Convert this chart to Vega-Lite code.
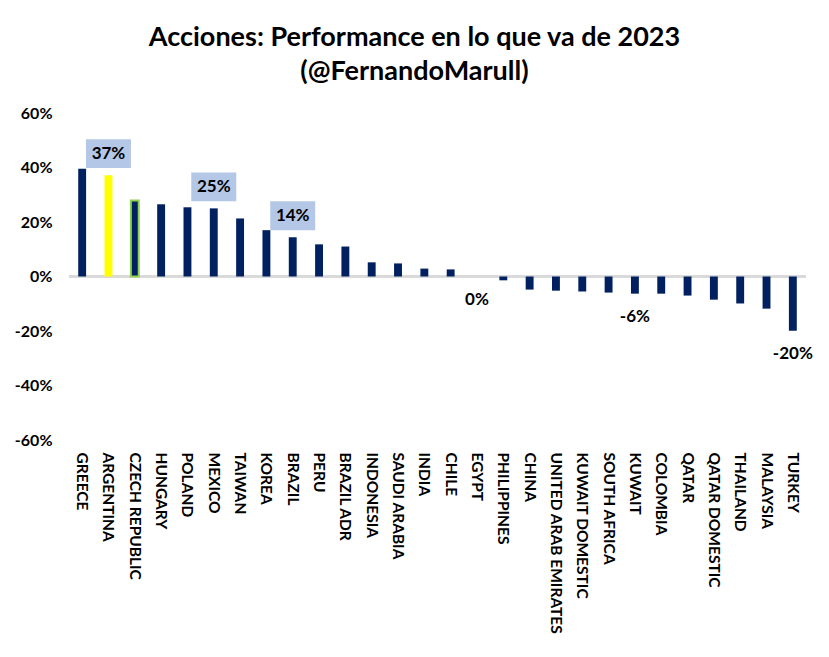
{
  "$schema": "https://vega.github.io/schema/vega-lite/v6.json",
  "width": 737,
  "height": 327,
  "autosize": {"type": "none"},
  "padding": {"left": 69, "top": 113, "right": 23, "bottom": 217},
  "background": "white",
  "config": {"view": {"stroke": null}, "font": "Lato"},
  "title": {
    "text": ["Acciones: Performance en lo que va de 2023", "(@FernandoMarull)"],
    "fontSize": 27,
    "fontWeight": "bold",
    "font": "Lato",
    "color": "black",
    "anchor": "middle",
    "lineHeight": 34,
    "dx": -23,
    "offset": 19
  },
  "data": {
    "values": [
      {"country": "GREECE", "value": 39.5},
      {"country": "ARGENTINA", "value": 37.2},
      {"country": "CZECH REPUBLIC", "value": 27.9},
      {"country": "HUNGARY", "value": 26.5},
      {"country": "POLAND", "value": 25.4},
      {"country": "MEXICO", "value": 25.0},
      {"country": "TAIWAN", "value": 21.3},
      {"country": "KOREA", "value": 17.0},
      {"country": "BRAZIL", "value": 14.4},
      {"country": "PERU", "value": 11.8},
      {"country": "BRAZIL ADR", "value": 11.0},
      {"country": "INDONESIA", "value": 5.2},
      {"country": "SAUDI ARABIA", "value": 4.8},
      {"country": "INDIA", "value": 2.9},
      {"country": "CHILE", "value": 2.6},
      {"country": "EGYPT", "value": 0},
      {"country": "PHILIPPINES", "value": -1.4},
      {"country": "CHINA", "value": -4.8},
      {"country": "UNITED ARAB EMIRATES", "value": -5.2},
      {"country": "KUWAIT DOMESTIC", "value": -5.5},
      {"country": "SOUTH AFRICA", "value": -5.9},
      {"country": "KUWAIT", "value": -6.3},
      {"country": "COLOMBIA", "value": -6.3},
      {"country": "QATAR", "value": -7.0},
      {"country": "QATAR DOMESTIC", "value": -8.5},
      {"country": "THAILAND", "value": -9.9},
      {"country": "MALAYSIA", "value": -11.8},
      {"country": "TURKEY", "value": -19.9}
    ]
  },
  "transform": [{"calculate": "round(datum.value) + '%'", "as": "lbl"}],
  "encoding": {
    "x": {
      "field": "country",
      "type": "nominal",
      "sort": null,
      "scale": {"paddingInner": 0.7, "paddingOuter": 0.35},
      "axis": {
        "title": null,
        "orient": "bottom",
        "domain": false,
        "ticks": false,
        "labelAngle": 90,
        "labelAlign": "left",
        "labelBaseline": "middle",
        "labelPadding": 12,
        "labelFontSize": 15.5,
        "labelFontWeight": "bold",
        "labelColor": "black",
        "labelLimit": 300
      }
    },
    "y": {
      "field": "value",
      "type": "quantitative",
      "scale": {"domain": [-60, 60], "nice": false},
      "axis": {
        "title": null,
        "values": [-60, -40, -20, 0, 20, 40, 60],
        "labelExpr": "datum.value + '%'",
        "grid": false,
        "domain": false,
        "ticks": false,
        "labelPadding": 17,
        "labelFontSize": 16,
        "labelFontWeight": "bold",
        "labelColor": "black"
      }
    }
  },
  "layer": [
    {
      "mark": {"type": "rule", "color": "#d9d9d9", "strokeWidth": 2},
      "encoding": {"x": null, "y": {"datum": 0}}
    },
    {
      "mark": {"type": "bar", "strokeWidth": 2},
      "encoding": {
        "color": {
          "condition": {"test": "datum.country === 'ARGENTINA'", "value": "#FFFF00"},
          "value": "#002060"
        },
        "stroke": {
          "condition": {"test": "datum.country === 'CZECH REPUBLIC'", "value": "#92D050"},
          "value": "transparent"
        }
      }
    },
    {
      "transform": [{"filter": {"field": "country", "oneOf": ["ARGENTINA", "MEXICO", "BRAZIL"]}}],
      "mark": {
        "type": "point",
        "shape": "M-1,-0.644L1,-0.644L1,0.644L-1,0.644Z",
        "size": 2025,
        "filled": true,
        "opacity": 1,
        "color": "#B4C7E7",
        "yOffset": -21.5
      }
    },
    {
      "transform": [{"filter": {"field": "country", "oneOf": ["ARGENTINA", "MEXICO", "BRAZIL"]}}],
      "mark": {"type": "text", "dy": -21.5, "fontSize": 17, "fontWeight": "bold", "color": "black", "baseline": "middle"},
      "encoding": {"text": {"field": "lbl"}}
    },
    {
      "transform": [{"filter": {"field": "country", "oneOf": ["EGYPT", "KUWAIT", "TURKEY"]}}],
      "mark": {"type": "text", "dy": 23, "fontSize": 17, "fontWeight": "bold", "color": "black", "baseline": "middle"},
      "encoding": {"text": {"field": "lbl"}}
    }
  ]
}
